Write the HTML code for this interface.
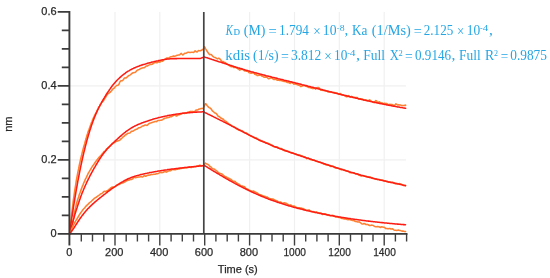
<!DOCTYPE html>
<html><head><meta charset="utf-8"><title>Binding kinetics</title>
<style>
html,body{margin:0;padding:0;background:#fff}
body{width:550px;height:278px;overflow:hidden;position:relative}
svg{display:block;position:absolute;left:0;top:0}
.t{font-family:"Liberation Sans",Arial,sans-serif;font-size:11px;fill:#2a2a2a;stroke:#2a2a2a;stroke-width:0.25px}
.k{font-family:"Liberation Serif","Times New Roman",serif;fill:#25a6e4;}
</style></head><body>
<svg width="550" height="278" viewBox="0 0 550 278">
<rect width="550" height="278" fill="#fff"/>
<g stroke="#f0f0f0" stroke-width="1.2" fill="none">
<path d="M115.0,12 V233"/><path d="M159.8,12 V233"/><path d="M249.6,12 V233"/><path d="M294.5,12 V233"/><path d="M339.3,12 V233"/><path d="M384.2,12 V233"/><path d="M70,159.9 H406"/><path d="M70,85.9 H406"/>
</g>
<g fill="none" stroke-width="1.55" stroke-linejoin="round" stroke-linecap="round">
<path stroke="#ff8030" d="M69.6,233.9 L70.3,226.2 L71.1,219.2 L71.8,212.5 L72.6,206.5 L73.3,200.7 L74.1,195.2 L74.8,190.2 L75.6,185.4 L76.3,180.7 L77.1,176.4 L77.8,172.6 L78.6,168.9 L79.3,165.1 L80.1,161.6 L80.8,158.4 L81.6,155.3 L82.3,152.2 L83.1,149.2 L83.8,146.5 L84.6,143.9 L85.3,141.2 L86.1,138.6 L86.8,136.0 L87.6,133.6 L88.3,131.3 L89.1,129.2 L89.8,127.2 L90.6,125.1 L91.3,123.1 L92.1,121.2 L92.8,119.4 L93.6,117.7 L94.3,116.1 L95.1,114.5 L95.8,113.1 L96.6,111.8 L97.3,110.3 L98.1,108.7 L98.8,107.2 L99.6,106.1 L100.3,105.0 L101.1,103.7 L101.8,102.4 L102.6,101.4 L103.3,101.0 L104.1,99.7 L104.8,98.4 L105.6,97.3 L106.3,95.9 L107.1,94.7 L107.8,93.9 L108.6,93.4 L109.3,92.9 L110.1,92.4 L110.8,91.5 L111.6,90.7 L112.3,89.7 L113.1,88.8 L113.8,88.4 L114.6,87.6 L115.3,86.6 L116.1,86.0 L116.8,85.4 L117.6,85.2 L118.3,85.0 L119.1,84.0 L119.8,82.1 L120.6,81.0 L121.3,80.8 L122.1,80.8 L122.8,80.4 L123.6,79.3 L124.3,78.1 L125.1,77.9 L125.8,78.0 L126.6,77.5 L127.3,76.9 L128.1,76.1 L128.8,75.5 L129.6,75.2 L130.3,74.8 L131.1,74.2 L131.8,73.5 L132.6,73.0 L133.3,72.7 L134.1,72.6 L134.8,72.5 L135.6,72.1 L136.3,71.2 L137.1,70.3 L137.8,69.9 L138.6,69.8 L139.3,69.4 L140.1,68.9 L140.8,68.5 L141.6,68.2 L142.3,68.0 L143.1,67.8 L143.8,67.8 L144.6,67.5 L145.3,66.8 L146.1,66.1 L146.8,66.0 L147.6,65.9 L148.3,65.2 L149.1,64.9 L149.8,64.6 L150.6,64.2 L151.3,64.4 L152.1,64.3 L152.8,63.7 L153.6,63.3 L154.3,62.9 L155.1,62.5 L155.8,62.4 L156.6,62.8 L157.3,62.7 L158.1,62.0 L158.8,61.7 L159.6,62.2 L160.3,61.9 L161.1,60.9 L161.8,61.1 L162.6,61.2 L163.3,60.2 L164.1,59.5 L164.8,59.4 L165.6,59.0 L166.3,58.2 L167.1,57.9 L167.8,58.2 L168.6,58.1 L169.3,57.5 L170.1,57.1 L170.8,56.8 L171.6,56.8 L172.3,56.6 L173.1,56.1 L173.8,56.1 L174.6,56.2 L175.3,56.1 L176.1,55.7 L176.8,55.3 L177.6,55.2 L178.3,55.1 L179.1,55.0 L179.8,54.7 L180.6,53.9 L181.3,53.4 L182.1,54.3 L182.8,55.0 L183.6,54.3 L184.3,53.6 L185.1,53.3 L185.8,53.2 L186.6,52.9 L187.3,52.5 L188.1,52.2 L188.8,52.2 L189.6,52.4 L190.3,52.4 L191.1,52.3 L191.8,52.3 L192.6,52.3 L193.3,52.4 L194.1,52.1 L194.8,51.0 L195.6,50.9 L196.3,51.8 L197.1,52.0 L197.8,51.2 L198.6,50.6 L199.3,50.7 L200.1,50.8 L200.8,50.5 L201.6,50.2 L202.3,49.7 L203.1,49.3 L203.3,49.7 L204.6,46.7 L205.3,48.4 L206.1,49.6 L206.8,50.8 L207.6,52.0 L208.3,53.1 L209.1,54.1 L209.8,54.7 L210.6,54.5 L211.3,54.5 L212.1,55.4 L212.8,56.3 L213.6,56.9 L214.3,57.2 L215.1,57.4 L215.8,57.8 L216.6,58.4 L217.3,58.9 L218.1,58.5 L218.8,58.2 L219.6,58.7 L220.3,59.4 L221.1,60.5 L221.8,61.6 L222.6,61.6 L223.3,61.6 L224.1,62.4 L224.8,62.5 L225.6,62.7 L226.3,63.8 L227.1,64.2 L227.8,64.5 L228.6,65.1 L229.3,65.6 L230.1,66.1 L230.8,66.5 L231.6,66.7 L232.3,66.4 L233.1,66.7 L233.8,67.6 L234.6,67.5 L235.3,67.3 L236.1,67.5 L236.8,68.0 L237.6,68.6 L238.3,69.0 L239.1,69.6 L239.8,70.1 L240.6,69.6 L241.3,69.1 L242.1,69.3 L242.8,69.6 L243.6,70.0 L244.3,70.8 L245.1,71.0 L245.8,71.1 L246.6,71.3 L247.3,71.1 L248.1,71.6 L248.8,72.5 L249.6,72.8 L250.3,73.0 L251.1,73.3 L251.8,73.0 L252.6,73.0 L253.3,73.0 L254.1,73.1 L254.8,74.3 L255.6,74.6 L256.4,74.6 L257.1,75.4 L257.9,75.6 L258.6,75.3 L259.4,75.2 L260.1,75.2 L260.9,75.3 L261.6,75.9 L262.4,76.2 L263.1,76.5 L263.9,77.1 L264.6,77.1 L265.4,77.1 L266.1,77.1 L266.9,77.2 L267.6,78.0 L268.4,78.6 L269.1,78.6 L269.9,78.4 L270.6,77.9 L271.4,77.7 L272.1,78.1 L272.9,78.9 L273.6,79.4 L274.4,79.5 L275.1,79.2 L275.9,79.2 L276.6,79.8 L277.4,80.2 L278.1,80.3 L278.9,80.3 L279.6,80.5 L280.4,80.4 L281.1,80.4 L281.9,80.7 L282.6,81.0 L283.4,81.3 L284.1,81.5 L284.9,81.4 L285.6,81.6 L286.4,81.9 L287.1,82.4 L287.9,82.5 L288.6,82.4 L289.4,83.1 L290.1,83.4 L290.9,82.7 L291.6,82.4 L292.4,82.8 L293.1,83.5 L293.9,84.2 L294.6,84.0 L295.4,83.9 L296.1,84.2 L296.9,84.5 L297.6,84.9 L298.4,85.3 L299.1,85.3 L299.9,85.6 L300.6,86.4 L301.4,86.4 L302.1,86.0 L302.9,85.7 L303.6,85.5 L304.4,85.6 L305.1,85.9 L305.9,86.2 L306.6,86.4 L307.4,86.6 L308.1,87.2 L308.9,87.5 L309.6,87.4 L310.4,87.7 L311.1,88.0 L311.9,88.3 L312.6,88.6 L313.4,88.5 L314.1,88.1 L314.9,88.5 L315.6,89.1 L316.4,88.5 L317.1,87.8 L317.9,87.6 L318.6,87.6 L319.4,88.2 L320.1,89.4 L320.9,90.2 L321.6,90.2 L322.4,90.2 L323.1,90.4 L323.9,90.5 L324.6,90.6 L325.4,90.9 L326.1,91.0 L326.9,91.1 L327.6,91.7 L328.4,92.1 L329.1,92.0 L329.9,92.1 L330.6,91.9 L331.4,92.0 L332.1,92.4 L332.9,92.5 L333.6,92.5 L334.4,92.5 L335.1,93.0 L335.9,93.2 L336.6,93.0 L337.4,93.4 L338.1,94.0 L338.9,94.4 L339.6,94.0 L340.4,93.5 L341.1,94.3 L341.9,95.0 L342.6,94.9 L343.4,95.1 L344.1,95.4 L344.9,95.8 L345.6,96.3 L346.4,96.7 L347.1,96.7 L347.9,95.9 L348.6,95.6 L349.4,96.6 L350.1,97.1 L350.9,96.7 L351.6,96.3 L352.4,96.8 L353.1,97.4 L353.9,97.5 L354.6,97.5 L355.4,97.5 L356.1,97.5 L356.9,97.5 L357.6,98.0 L358.4,98.8 L359.1,98.9 L359.9,98.7 L360.6,98.8 L361.4,98.9 L362.1,98.9 L362.9,99.4 L363.6,100.1 L364.4,100.3 L365.1,99.8 L365.9,99.9 L366.6,100.6 L367.4,100.8 L368.1,100.6 L368.9,100.2 L369.6,99.8 L370.4,100.3 L371.1,101.3 L371.9,101.6 L372.6,101.8 L373.4,102.5 L374.1,102.6 L374.9,101.6 L375.6,100.6 L376.4,100.7 L377.1,101.7 L377.9,102.6 L378.6,102.3 L379.4,101.7 L380.1,102.4 L380.9,103.2 L381.6,102.8 L382.4,103.0 L383.1,103.7 L383.9,103.5 L384.6,103.2 L385.4,103.4 L386.1,103.5 L386.9,103.6 L387.6,104.3 L388.4,104.6 L389.1,104.4 L389.9,104.3 L390.6,104.5 L391.4,104.4 L392.1,104.6 L392.9,104.9 L393.6,105.2 L394.4,105.4 L395.1,104.7 L395.9,103.8 L396.6,104.2 L397.4,105.0 L398.1,105.0 L398.9,104.8 L399.6,104.9 L400.4,105.1 L401.1,105.3 L401.9,105.4 L402.6,105.4 L403.4,105.6 L404.1,105.5 L404.9,105.3 L405.6,105.4 L405.6,105.0"/>
<path stroke="#ff1a12" d="M69.6,233.9 L70.3,228.4 L71.1,223.1 L71.8,217.9 L72.6,212.9 L73.3,208.0 L74.1,203.2 L74.8,198.6 L75.6,194.1 L76.3,189.7 L77.1,185.5 L77.8,181.4 L78.6,177.4 L79.3,173.5 L80.1,169.7 L80.8,166.1 L81.6,162.5 L82.3,159.1 L83.1,155.8 L83.8,152.6 L84.6,149.5 L85.3,146.5 L86.1,143.6 L86.8,140.8 L87.6,138.1 L88.3,135.5 L89.1,133.0 L89.8,130.5 L90.6,128.2 L91.3,126.0 L92.1,123.8 L92.8,121.7 L93.6,119.7 L94.3,117.8 L95.1,115.9 L95.8,114.1 L96.6,112.4 L97.3,110.7 L98.1,109.1 L98.8,107.6 L99.6,106.1 L100.3,104.7 L101.1,103.3 L101.8,102.0 L102.6,100.7 L103.3,99.4 L104.1,98.1 L104.8,96.9 L105.6,95.7 L106.3,94.5 L107.1,93.3 L107.8,92.2 L108.6,91.1 L109.3,90.0 L110.1,88.9 L110.8,87.8 L111.6,86.8 L112.3,85.8 L113.1,84.8 L113.8,83.9 L114.6,83.0 L115.3,82.2 L116.1,81.3 L116.8,80.5 L117.6,79.7 L118.3,79.0 L119.1,78.3 L119.8,77.6 L120.6,76.9 L121.3,76.2 L122.1,75.6 L122.8,75.0 L123.6,74.4 L124.3,73.8 L125.1,73.3 L125.8,72.7 L126.6,72.2 L127.3,71.7 L128.1,71.2 L128.8,70.8 L129.6,70.3 L130.3,69.9 L131.1,69.5 L131.8,69.1 L132.6,68.7 L133.3,68.4 L134.1,68.0 L134.8,67.7 L135.6,67.4 L136.3,67.0 L137.1,66.7 L137.8,66.4 L138.6,66.2 L139.3,65.9 L140.1,65.6 L140.8,65.4 L141.6,65.1 L142.3,64.9 L143.1,64.6 L143.8,64.4 L144.6,64.2 L145.3,64.0 L146.1,63.8 L146.8,63.6 L147.6,63.3 L148.3,63.1 L149.1,62.9 L149.8,62.7 L150.6,62.5 L151.3,62.3 L152.1,62.1 L152.8,62.0 L153.6,61.8 L154.3,61.6 L155.1,61.4 L155.8,61.2 L156.6,61.0 L157.3,60.9 L158.1,60.7 L158.8,60.5 L159.6,60.4 L160.3,60.2 L161.1,60.1 L161.8,59.9 L162.6,59.8 L163.3,59.7 L164.1,59.6 L164.8,59.4 L165.6,59.3 L166.3,59.2 L167.1,59.1 L167.8,59.0 L168.6,59.0 L169.3,58.9 L170.1,58.8 L170.8,58.8 L171.6,58.7 L172.3,58.7 L173.1,58.6 L173.8,58.6 L174.6,58.6 L175.3,58.6 L176.1,58.6 L176.8,58.6 L176.9,58.6 L177.8,58.4 L200.5,58.4 L202.8,57.5 L204.0,56.9 L204.8,57.1 L205.5,57.4 L206.2,57.6 L207.0,57.8 L207.8,58.1 L208.5,58.3 L209.2,58.5 L210.0,58.8 L210.8,59.0 L211.5,59.3 L212.2,59.5 L213.0,59.7 L213.8,60.0 L214.5,60.2 L215.2,60.5 L216.0,60.7 L216.8,60.9 L217.5,61.2 L218.2,61.4 L219.0,61.7 L219.8,61.9 L220.5,62.1 L221.2,62.4 L222.0,62.6 L222.8,62.9 L223.5,63.1 L224.2,63.4 L225.0,63.6 L225.8,63.8 L226.5,64.1 L227.2,64.3 L228.0,64.6 L228.8,64.8 L229.5,65.1 L230.2,65.3 L231.0,65.5 L231.8,65.8 L232.5,66.0 L233.2,66.2 L234.0,66.5 L234.8,66.7 L235.5,67.0 L236.2,67.2 L237.0,67.4 L237.8,67.7 L238.5,67.9 L239.2,68.1 L240.0,68.4 L240.8,68.6 L241.5,68.8 L242.2,69.0 L243.0,69.3 L243.8,69.5 L244.5,69.7 L245.2,70.0 L246.0,70.2 L246.8,70.4 L247.5,70.6 L248.2,70.8 L249.0,71.0 L249.8,71.3 L250.5,71.5 L251.2,71.7 L252.0,71.9 L252.8,72.1 L253.5,72.3 L254.2,72.5 L255.0,72.7 L255.8,72.9 L256.5,73.1 L257.2,73.3 L258.0,73.5 L258.8,73.7 L259.5,73.9 L260.2,74.1 L261.0,74.3 L261.8,74.5 L262.5,74.7 L263.2,74.9 L264.0,75.1 L264.8,75.3 L265.5,75.5 L266.2,75.7 L267.0,75.9 L267.8,76.1 L268.5,76.3 L269.2,76.5 L270.0,76.6 L270.8,76.8 L271.5,77.0 L272.2,77.2 L273.0,77.4 L273.8,77.6 L274.5,77.8 L275.2,78.0 L276.0,78.1 L276.8,78.3 L277.5,78.5 L278.2,78.7 L279.0,78.9 L279.8,79.1 L280.5,79.2 L281.2,79.4 L282.0,79.6 L282.8,79.8 L283.5,80.0 L284.2,80.2 L285.0,80.4 L285.8,80.5 L286.5,80.7 L287.2,80.9 L288.0,81.1 L288.8,81.3 L289.5,81.5 L290.2,81.7 L291.0,81.8 L291.8,82.0 L292.5,82.2 L293.2,82.4 L294.0,82.6 L294.8,82.8 L295.5,83.0 L296.2,83.2 L297.0,83.3 L297.8,83.5 L298.5,83.7 L299.2,83.9 L300.0,84.1 L300.8,84.3 L301.5,84.5 L302.2,84.7 L303.0,84.9 L303.8,85.1 L304.5,85.2 L305.2,85.4 L306.0,85.6 L306.8,85.8 L307.5,86.0 L308.2,86.2 L309.0,86.4 L309.8,86.6 L310.5,86.8 L311.2,87.0 L312.0,87.2 L312.8,87.3 L313.5,87.5 L314.2,87.7 L315.0,87.9 L315.8,88.1 L316.5,88.3 L317.2,88.5 L318.0,88.7 L318.8,88.9 L319.5,89.1 L320.2,89.3 L321.0,89.4 L321.8,89.6 L322.5,89.8 L323.2,90.0 L324.0,90.2 L324.8,90.4 L325.5,90.6 L326.2,90.8 L327.0,91.0 L327.8,91.2 L328.5,91.3 L329.2,91.5 L330.0,91.7 L330.8,91.9 L331.5,92.1 L332.2,92.3 L333.0,92.5 L333.8,92.7 L334.5,92.9 L335.2,93.0 L336.0,93.2 L336.8,93.4 L337.5,93.6 L338.2,93.8 L339.0,94.0 L339.8,94.2 L340.5,94.4 L341.2,94.5 L342.0,94.7 L342.8,94.9 L343.5,95.1 L344.2,95.3 L345.0,95.5 L345.8,95.6 L346.5,95.8 L347.2,96.0 L348.0,96.2 L348.8,96.4 L349.5,96.6 L350.2,96.7 L351.0,96.9 L351.8,97.1 L352.5,97.3 L353.2,97.5 L354.0,97.6 L354.8,97.8 L355.5,98.0 L356.2,98.2 L357.0,98.3 L357.8,98.5 L358.5,98.7 L359.2,98.9 L360.0,99.0 L360.8,99.2 L361.5,99.4 L362.2,99.6 L363.0,99.7 L363.8,99.9 L364.5,100.1 L365.2,100.2 L366.0,100.4 L366.8,100.6 L367.5,100.8 L368.2,100.9 L369.0,101.1 L369.8,101.3 L370.5,101.4 L371.2,101.6 L372.0,101.7 L372.8,101.9 L373.5,102.1 L374.2,102.2 L375.0,102.4 L375.8,102.6 L376.5,102.7 L377.2,102.9 L378.0,103.0 L378.8,103.2 L379.5,103.4 L380.2,103.5 L381.0,103.7 L381.8,103.8 L382.5,104.0 L383.2,104.1 L384.0,104.3 L384.8,104.4 L385.5,104.6 L386.2,104.7 L387.0,104.9 L387.8,105.0 L388.5,105.2 L389.2,105.3 L390.0,105.5 L390.8,105.6 L391.5,105.7 L392.2,105.9 L393.0,106.0 L393.8,106.2 L394.5,106.3 L395.2,106.4 L396.0,106.6 L396.8,106.7 L397.5,106.9 L398.2,107.0 L399.0,107.1 L399.8,107.3 L400.5,107.4 L401.2,107.5 L402.0,107.6 L402.8,107.8 L403.5,107.9 L404.2,108.0 L405.0,108.2 L405.6,108.3"/>
<path stroke="#ff8030" d="M69.6,233.9 L70.3,232.6 L71.1,230.2 L71.8,227.0 L72.6,223.4 L73.3,219.3 L74.1,215.1 L74.8,211.1 L75.6,207.6 L76.3,204.6 L77.1,201.7 L77.8,199.2 L78.6,196.9 L79.3,194.6 L80.1,192.5 L80.8,190.5 L81.6,188.4 L82.3,186.4 L83.1,184.6 L83.8,182.8 L84.6,181.1 L85.3,179.4 L86.1,177.8 L86.8,176.3 L87.6,174.7 L88.3,173.2 L89.1,171.9 L89.8,170.6 L90.6,169.4 L91.3,168.2 L92.1,166.8 L92.8,165.7 L93.6,164.7 L94.3,163.7 L95.1,162.5 L95.8,161.4 L96.6,160.4 L97.3,159.5 L98.1,158.6 L98.8,157.6 L99.6,156.7 L100.3,156.0 L101.1,155.2 L101.8,154.3 L102.6,153.4 L103.3,152.6 L104.1,151.6 L104.8,151.1 L105.6,150.5 L106.3,149.5 L107.1,148.6 L107.8,148.0 L108.6,147.5 L109.3,146.8 L110.1,145.9 L110.8,145.3 L111.6,144.5 L112.3,143.5 L113.1,143.1 L113.8,142.9 L114.6,142.6 L115.3,142.0 L116.1,141.4 L116.8,141.3 L117.6,141.1 L118.3,140.7 L119.1,140.6 L119.8,140.2 L120.6,139.3 L121.3,138.7 L122.1,138.0 L122.8,137.2 L123.6,136.7 L124.3,136.1 L125.1,135.1 L125.8,134.8 L126.6,134.5 L127.3,133.6 L128.1,133.3 L128.8,133.2 L129.6,133.1 L130.3,132.6 L131.1,131.7 L131.8,131.2 L132.6,131.3 L133.3,131.0 L134.1,130.3 L134.8,129.9 L135.6,129.6 L136.3,129.3 L137.1,129.0 L137.8,128.5 L138.6,127.8 L139.3,127.7 L140.1,127.5 L140.8,127.1 L141.6,126.6 L142.3,126.0 L143.1,126.0 L143.8,125.8 L144.6,125.2 L145.3,125.0 L146.1,125.1 L146.8,125.4 L147.6,125.1 L148.3,124.2 L149.1,123.5 L149.8,123.2 L150.6,123.0 L151.3,122.7 L152.1,122.4 L152.8,122.2 L153.6,122.0 L154.3,121.7 L155.1,121.4 L155.8,121.5 L156.6,121.6 L157.3,120.9 L158.1,120.4 L158.8,120.5 L159.6,120.4 L160.3,120.3 L161.1,120.3 L161.8,120.1 L162.6,119.6 L163.3,119.1 L164.1,118.8 L164.8,118.3 L165.6,118.1 L166.3,117.9 L167.1,117.6 L167.8,117.6 L168.6,117.5 L169.3,117.2 L170.1,116.8 L170.8,116.8 L171.6,116.7 L172.3,116.1 L173.1,115.6 L173.8,115.4 L174.6,114.9 L175.3,115.1 L176.1,115.9 L176.8,115.9 L177.6,115.3 L178.3,114.8 L179.1,114.6 L179.8,114.6 L180.6,114.3 L181.3,113.9 L182.1,113.4 L182.8,113.1 L183.6,113.3 L184.3,113.5 L185.1,113.3 L185.8,113.1 L186.6,113.0 L187.3,112.4 L188.1,112.1 L188.8,112.1 L189.6,111.8 L190.3,111.4 L191.1,111.5 L191.8,111.6 L192.6,111.4 L193.3,111.7 L194.1,112.0 L194.8,111.5 L195.6,110.6 L196.3,109.9 L197.1,109.9 L197.8,109.9 L198.6,109.3 L199.3,109.0 L200.1,108.9 L200.8,108.6 L201.6,108.4 L202.3,108.5 L203.1,108.4 L203.3,108.0 L205.5,103.7 L206.2,104.2 L207.0,105.4 L207.8,106.3 L208.5,107.2 L209.2,107.7 L210.0,107.9 L210.8,108.5 L211.5,109.5 L212.2,110.7 L213.0,111.4 L213.8,112.0 L214.5,112.7 L215.2,113.0 L216.0,113.4 L216.8,114.2 L217.5,115.2 L218.2,116.2 L219.0,116.6 L219.8,116.9 L220.5,117.7 L221.2,118.3 L222.0,118.6 L222.8,119.0 L223.5,119.5 L224.2,120.3 L225.0,120.9 L225.8,121.2 L226.5,121.9 L227.2,122.6 L228.0,123.2 L228.8,123.8 L229.5,124.3 L230.2,124.6 L231.0,125.3 L231.8,126.2 L232.5,126.3 L233.2,126.4 L234.0,126.8 L234.8,127.3 L235.5,128.1 L236.2,128.7 L237.0,129.2 L237.8,129.6 L238.5,129.9 L239.2,130.3 L240.0,130.5 L240.8,130.5 L241.5,130.8 L242.2,131.0 L243.0,131.5 L243.8,132.3 L244.5,132.5 L245.2,132.7 L246.0,132.9 L246.8,133.2 L247.5,133.9 L248.2,134.5 L249.0,135.0 L249.8,135.4 L250.5,135.7 L251.2,136.2 L252.0,136.6 L252.8,136.8 L253.5,137.2 L254.2,137.7 L255.0,138.1 L255.8,138.1 L256.5,138.1 L257.2,138.8 L258.0,139.5 L258.8,139.8 L259.5,140.4 L260.2,141.0 L261.0,141.1 L261.8,141.2 L262.5,141.2 L263.2,141.4 L264.0,141.8 L264.8,142.1 L265.5,142.5 L266.2,142.8 L267.0,143.1 L267.8,143.1 L268.5,143.4 L269.2,143.8 L270.0,144.2 L270.8,144.6 L271.5,145.0 L272.2,145.5 L273.0,146.3 L273.8,146.7 L274.5,146.8 L275.2,147.0 L276.0,147.2 L276.8,146.9 L277.5,147.0 L278.2,147.7 L279.0,148.2 L279.8,148.5 L280.5,148.6 L281.2,148.5 L282.0,149.0 L282.8,149.9 L283.5,150.2 L284.2,150.4 L285.0,150.7 L285.8,150.6 L286.5,150.7 L287.2,151.1 L288.0,151.2 L288.8,151.5 L289.5,151.9 L290.2,152.3 L291.0,152.8 L291.8,153.0 L292.5,152.8 L293.2,153.1 L294.0,153.6 L294.8,153.8 L295.5,154.0 L296.2,154.5 L297.0,154.8 L297.8,155.0 L298.5,155.1 L299.2,154.9 L300.0,155.1 L300.8,155.7 L301.5,155.9 L302.2,156.0 L303.0,156.4 L303.8,156.8 L304.5,157.0 L305.2,157.1 L306.0,157.8 L306.8,158.7 L307.5,158.4 L308.2,158.0 L309.0,158.7 L309.8,159.3 L310.5,159.6 L311.2,159.6 L312.0,159.7 L312.8,160.3 L313.5,160.3 L314.2,160.2 L315.0,160.6 L315.8,161.1 L316.5,161.4 L317.2,161.6 L318.0,161.8 L318.8,162.1 L319.5,162.3 L320.2,162.4 L321.0,162.6 L321.8,163.0 L322.5,163.4 L323.2,163.8 L324.0,164.2 L324.8,164.3 L325.5,164.6 L326.2,165.0 L327.0,165.0 L327.8,165.0 L328.5,165.1 L329.2,165.5 L330.0,166.1 L330.8,166.4 L331.5,166.4 L332.2,166.1 L333.0,166.2 L333.8,166.6 L334.5,167.1 L335.2,168.0 L336.0,168.1 L336.8,167.7 L337.5,167.8 L338.2,168.2 L339.0,168.6 L339.8,168.9 L340.5,169.4 L341.2,169.7 L342.0,169.5 L342.8,169.5 L343.5,169.9 L344.2,170.3 L345.0,170.6 L345.8,170.8 L346.5,171.1 L347.2,171.2 L348.0,171.2 L348.8,171.5 L349.5,172.2 L350.2,172.8 L351.0,172.7 L351.8,172.6 L352.5,172.8 L353.2,172.8 L354.0,172.8 L354.8,173.4 L355.5,173.9 L356.2,173.7 L357.0,173.7 L357.8,174.4 L358.5,175.0 L359.2,175.2 L360.0,175.4 L360.8,175.9 L361.5,176.0 L362.2,175.8 L363.0,175.7 L363.8,175.8 L364.5,176.1 L365.2,176.3 L366.0,176.5 L366.8,176.9 L367.5,177.0 L368.2,177.0 L369.0,177.1 L369.8,176.9 L370.5,177.1 L371.2,177.6 L372.0,178.1 L372.8,178.4 L373.5,178.6 L374.2,178.7 L375.0,178.7 L375.8,179.0 L376.5,179.3 L377.2,179.5 L378.0,179.5 L378.8,179.5 L379.5,179.5 L380.2,180.0 L381.0,180.3 L381.8,180.1 L382.5,180.0 L383.2,180.6 L384.0,180.9 L384.8,180.9 L385.5,181.0 L386.2,181.4 L387.0,181.6 L387.8,181.9 L388.5,182.2 L389.2,182.2 L390.0,182.3 L390.8,182.5 L391.5,182.5 L392.2,182.3 L393.0,182.3 L393.8,182.8 L394.5,183.5 L395.2,183.6 L396.0,183.6 L396.8,183.7 L397.5,183.6 L398.2,183.8 L399.0,183.7 L399.8,183.6 L400.5,183.9 L401.2,184.2 L402.0,184.5 L402.8,185.2 L403.5,185.6 L404.2,185.4 L405.0,185.5 L405.5,185.8"/>
<path stroke="#ff1a12" d="M69.6,233.9 L70.3,231.0 L71.1,228.2 L71.8,225.4 L72.6,222.7 L73.3,220.0 L74.1,217.4 L74.8,214.8 L75.6,212.3 L76.3,209.9 L77.1,207.5 L77.8,205.2 L78.6,202.9 L79.3,200.7 L80.1,198.6 L80.8,196.5 L81.6,194.5 L82.3,192.6 L83.1,190.8 L83.8,189.0 L84.6,187.2 L85.3,185.5 L86.1,183.8 L86.8,182.2 L87.6,180.7 L88.3,179.1 L89.1,177.6 L89.8,176.2 L90.6,174.7 L91.3,173.3 L92.1,171.9 L92.8,170.6 L93.6,169.2 L94.3,167.9 L95.1,166.6 L95.8,165.3 L96.6,164.0 L97.3,162.8 L98.1,161.5 L98.8,160.3 L99.6,159.2 L100.3,158.0 L101.1,156.9 L101.8,155.8 L102.6,154.8 L103.3,153.7 L104.1,152.7 L104.8,151.8 L105.6,150.9 L106.3,150.0 L107.1,149.1 L107.8,148.3 L108.6,147.5 L109.3,146.7 L110.1,146.0 L110.8,145.2 L111.6,144.5 L112.3,143.7 L113.1,143.0 L113.8,142.3 L114.6,141.6 L115.3,140.9 L116.1,140.2 L116.8,139.5 L117.6,138.8 L118.3,138.1 L119.1,137.4 L119.8,136.7 L120.6,136.1 L121.3,135.4 L122.1,134.8 L122.8,134.1 L123.6,133.5 L124.3,132.9 L125.1,132.3 L125.8,131.7 L126.6,131.2 L127.3,130.6 L128.1,130.1 L128.8,129.6 L129.6,129.1 L130.3,128.6 L131.1,128.1 L131.8,127.7 L132.6,127.3 L133.3,126.8 L134.1,126.4 L134.8,126.0 L135.6,125.7 L136.3,125.3 L137.1,125.0 L137.8,124.6 L138.6,124.3 L139.3,124.0 L140.1,123.7 L140.8,123.4 L141.6,123.1 L142.3,122.8 L143.1,122.5 L143.8,122.2 L144.6,122.0 L145.3,121.7 L146.1,121.4 L146.8,121.2 L147.6,120.9 L148.3,120.7 L149.1,120.4 L149.8,120.2 L150.6,120.0 L151.3,119.7 L152.1,119.5 L152.8,119.3 L153.6,119.1 L154.3,118.8 L155.1,118.6 L155.8,118.4 L156.6,118.2 L157.3,118.0 L158.1,117.8 L158.8,117.6 L159.6,117.4 L160.3,117.3 L161.1,117.1 L161.8,116.9 L162.6,116.7 L163.3,116.6 L164.1,116.4 L164.8,116.2 L165.6,116.1 L166.3,115.9 L167.1,115.8 L167.8,115.6 L168.6,115.5 L169.3,115.3 L170.1,115.2 L170.8,115.1 L171.6,114.9 L172.3,114.8 L173.1,114.7 L173.8,114.5 L174.6,114.4 L175.3,114.3 L176.1,114.2 L176.8,114.1 L177.6,114.0 L178.3,113.9 L179.1,113.8 L179.8,113.7 L180.6,113.6 L181.3,113.5 L182.1,113.4 L182.8,113.3 L183.6,113.2 L184.3,113.1 L185.1,113.0 L185.8,113.0 L186.6,112.9 L187.3,112.8 L188.1,112.8 L188.8,112.7 L189.6,112.6 L190.3,112.6 L191.1,112.5 L191.8,112.4 L192.6,112.4 L193.3,112.3 L194.1,112.3 L194.8,112.2 L195.6,112.2 L196.3,112.1 L197.1,112.1 L197.8,112.0 L198.6,112.0 L199.3,112.0 L200.1,111.9 L200.8,111.9 L201.6,111.9 L202.3,111.8 L203.1,111.8 L203.8,111.8 L204.0,111.8 L204.5,112.3 L205.2,112.7 L206.0,113.0 L206.8,113.4 L207.5,113.8 L208.2,114.2 L209.0,114.5 L209.8,114.9 L210.5,115.3 L211.2,115.6 L212.0,116.0 L212.8,116.4 L213.5,116.7 L214.2,117.1 L215.0,117.5 L215.8,117.9 L216.5,118.2 L217.2,118.6 L218.0,119.0 L218.8,119.4 L219.5,119.7 L220.2,120.1 L221.0,120.5 L221.8,120.8 L222.5,121.2 L223.2,121.6 L224.0,122.0 L224.8,122.4 L225.5,122.7 L226.2,123.1 L227.0,123.5 L227.8,123.9 L228.5,124.3 L229.2,124.6 L230.0,125.0 L230.8,125.4 L231.5,125.8 L232.2,126.2 L233.0,126.6 L233.8,127.0 L234.5,127.4 L235.2,127.7 L236.0,128.1 L236.8,128.5 L237.5,128.9 L238.2,129.3 L239.0,129.7 L239.8,130.1 L240.5,130.5 L241.2,130.9 L242.0,131.3 L242.8,131.7 L243.5,132.1 L244.2,132.5 L245.0,132.9 L245.8,133.2 L246.5,133.6 L247.2,134.0 L248.0,134.4 L248.8,134.8 L249.5,135.2 L250.2,135.6 L251.0,135.9 L251.8,136.3 L252.5,136.7 L253.2,137.1 L254.0,137.4 L254.8,137.8 L255.5,138.2 L256.2,138.5 L257.0,138.9 L257.8,139.2 L258.5,139.6 L259.2,140.0 L260.0,140.3 L260.8,140.6 L261.5,141.0 L262.2,141.3 L263.0,141.7 L263.8,142.0 L264.5,142.3 L265.2,142.7 L266.0,143.0 L266.8,143.3 L267.5,143.6 L268.2,143.9 L269.0,144.3 L269.8,144.6 L270.5,144.9 L271.2,145.2 L272.0,145.5 L272.8,145.8 L273.5,146.1 L274.2,146.4 L275.0,146.7 L275.8,147.0 L276.5,147.3 L277.2,147.6 L278.0,147.9 L278.8,148.2 L279.5,148.4 L280.2,148.7 L281.0,149.0 L281.8,149.3 L282.5,149.6 L283.2,149.8 L284.0,150.1 L284.8,150.4 L285.5,150.7 L286.2,150.9 L287.0,151.2 L287.8,151.5 L288.5,151.7 L289.2,152.0 L290.0,152.3 L290.8,152.5 L291.5,152.8 L292.2,153.1 L293.0,153.3 L293.8,153.6 L294.5,153.8 L295.2,154.1 L296.0,154.3 L296.8,154.6 L297.5,154.8 L298.2,155.1 L299.0,155.4 L299.8,155.6 L300.5,155.9 L301.2,156.1 L302.0,156.4 L302.8,156.6 L303.5,156.9 L304.2,157.1 L305.0,157.4 L305.8,157.6 L306.5,157.9 L307.2,158.1 L308.0,158.3 L308.8,158.6 L309.5,158.8 L310.2,159.1 L311.0,159.3 L311.8,159.6 L312.5,159.8 L313.2,160.1 L314.0,160.3 L314.8,160.6 L315.5,160.8 L316.2,161.1 L317.0,161.3 L317.8,161.6 L318.5,161.8 L319.2,162.1 L320.0,162.3 L320.8,162.6 L321.5,162.8 L322.2,163.1 L323.0,163.3 L323.8,163.6 L324.5,163.8 L325.2,164.0 L326.0,164.3 L326.8,164.5 L327.5,164.8 L328.2,165.0 L329.0,165.3 L329.8,165.5 L330.5,165.8 L331.2,166.0 L332.0,166.3 L332.8,166.5 L333.5,166.7 L334.2,167.0 L335.0,167.2 L335.8,167.5 L336.5,167.7 L337.2,168.0 L338.0,168.2 L338.8,168.4 L339.5,168.7 L340.2,168.9 L341.0,169.1 L341.8,169.4 L342.5,169.6 L343.2,169.9 L344.0,170.1 L344.8,170.3 L345.5,170.6 L346.2,170.8 L347.0,171.0 L347.8,171.2 L348.5,171.5 L349.2,171.7 L350.0,171.9 L350.8,172.2 L351.5,172.4 L352.2,172.6 L353.0,172.8 L353.8,173.0 L354.5,173.3 L355.2,173.5 L356.0,173.7 L356.8,173.9 L357.5,174.1 L358.2,174.3 L359.0,174.6 L359.8,174.8 L360.5,175.0 L361.2,175.2 L362.0,175.4 L362.8,175.6 L363.5,175.8 L364.2,176.0 L365.0,176.2 L365.8,176.4 L366.5,176.6 L367.2,176.8 L368.0,177.0 L368.8,177.2 L369.5,177.4 L370.2,177.6 L371.0,177.7 L371.8,177.9 L372.5,178.1 L373.2,178.3 L374.0,178.5 L374.8,178.7 L375.5,178.9 L376.2,179.0 L377.0,179.2 L377.8,179.4 L378.5,179.6 L379.2,179.7 L380.0,179.9 L380.8,180.1 L381.5,180.3 L382.2,180.4 L383.0,180.6 L383.8,180.8 L384.5,181.0 L385.2,181.1 L386.0,181.3 L386.8,181.5 L387.5,181.6 L388.2,181.8 L389.0,182.0 L389.8,182.1 L390.5,182.3 L391.2,182.5 L392.0,182.6 L392.8,182.8 L393.5,183.0 L394.2,183.1 L395.0,183.3 L395.8,183.5 L396.5,183.6 L397.2,183.8 L398.0,183.9 L398.8,184.1 L399.5,184.3 L400.2,184.4 L401.0,184.6 L401.8,184.8 L402.5,184.9 L403.2,185.1 L404.0,185.3 L404.8,185.4 L405.5,185.6"/>
<path stroke="#ff8030" d="M69.6,233.9 L70.3,232.0 L71.1,230.3 L71.8,228.7 L72.6,227.0 L73.3,225.5 L74.1,224.0 L74.8,222.5 L75.6,221.1 L76.3,219.9 L77.1,218.7 L77.8,217.5 L78.6,216.1 L79.3,214.9 L80.1,213.7 L80.8,212.6 L81.6,211.7 L82.3,210.6 L83.1,209.6 L83.8,208.8 L84.6,208.0 L85.3,207.1 L86.1,206.1 L86.8,205.4 L87.6,204.7 L88.3,203.9 L89.1,203.1 L89.8,202.5 L90.6,201.9 L91.3,201.3 L92.1,200.5 L92.8,199.8 L93.6,199.1 L94.3,198.4 L95.1,197.9 L95.8,197.5 L96.6,197.0 L97.3,196.4 L98.1,195.8 L98.8,195.3 L99.6,194.8 L100.3,194.2 L101.1,193.7 L101.8,193.3 L102.6,192.8 L103.3,192.1 L104.1,191.4 L104.8,191.3 L105.6,191.5 L106.3,191.2 L107.1,190.8 L107.8,190.5 L108.6,189.8 L109.3,189.1 L110.1,188.5 L110.8,187.8 L111.6,187.3 L112.3,187.1 L113.1,187.3 L113.8,187.2 L114.6,186.7 L115.3,186.3 L116.1,185.7 L116.8,185.2 L117.6,184.8 L118.3,184.3 L119.1,184.4 L119.8,184.2 L120.6,183.6 L121.3,183.2 L122.1,183.1 L122.8,182.9 L123.6,182.6 L124.3,182.1 L125.1,181.8 L125.8,181.2 L126.6,180.8 L127.3,180.6 L128.1,180.2 L128.8,180.0 L129.6,179.9 L130.3,179.4 L131.1,179.4 L131.8,179.4 L132.6,178.9 L133.3,178.0 L134.1,177.4 L134.8,177.5 L135.6,177.7 L136.3,177.5 L137.1,177.3 L137.8,177.3 L138.6,177.1 L139.3,177.0 L140.1,176.9 L140.8,176.6 L141.6,176.7 L142.3,177.0 L143.1,176.6 L143.8,175.9 L144.6,175.8 L145.3,176.1 L146.1,176.1 L146.8,175.6 L147.6,175.2 L148.3,175.1 L149.1,175.2 L149.8,175.1 L150.6,174.7 L151.3,174.5 L152.1,174.5 L152.8,174.5 L153.6,174.3 L154.3,174.3 L155.1,174.3 L155.8,174.0 L156.6,173.7 L157.3,173.7 L158.1,173.4 L158.8,173.2 L159.6,172.7 L160.3,172.4 L161.1,172.6 L161.8,172.7 L162.6,172.5 L163.3,172.2 L164.1,171.8 L164.8,171.6 L165.6,171.8 L166.3,172.1 L167.1,171.7 L167.8,171.2 L168.6,171.0 L169.3,170.7 L170.1,170.6 L170.8,170.6 L171.6,170.1 L172.3,169.5 L173.1,169.5 L173.8,169.7 L174.6,169.8 L175.3,169.7 L176.1,169.4 L176.8,169.3 L177.6,169.2 L178.3,169.0 L179.1,169.0 L179.8,168.7 L180.6,168.5 L181.3,168.4 L182.1,168.1 L182.8,168.0 L183.6,168.1 L184.3,168.0 L185.1,167.7 L185.8,167.6 L186.6,167.7 L187.3,167.7 L188.1,167.4 L188.8,167.3 L189.6,167.1 L190.3,167.2 L191.1,167.6 L191.8,167.2 L192.6,166.7 L193.3,166.9 L194.1,166.7 L194.8,166.7 L195.6,166.7 L196.3,166.3 L197.1,166.1 L197.8,166.0 L198.6,165.8 L199.3,165.3 L200.1,165.2 L200.8,165.5 L201.6,165.7 L202.3,165.7 L203.1,165.6 L203.8,165.1 L204.2,164.6 L205.5,163.1 L206.2,163.8 L207.0,164.1 L207.8,164.3 L208.5,164.8 L209.2,165.6 L210.0,166.4 L210.8,166.9 L211.5,167.5 L212.2,168.4 L213.0,168.9 L213.8,169.0 L214.5,169.2 L215.2,169.8 L216.0,170.4 L216.8,171.0 L217.5,171.6 L218.2,172.3 L219.0,172.9 L219.8,173.2 L220.5,173.4 L221.2,173.8 L222.0,174.1 L222.8,174.7 L223.5,175.5 L224.2,176.0 L225.0,176.4 L225.8,176.7 L226.5,177.1 L227.2,177.7 L228.0,178.0 L228.8,178.3 L229.5,178.6 L230.2,179.0 L231.0,179.4 L231.8,180.0 L232.5,180.7 L233.2,181.2 L234.0,181.4 L234.8,181.2 L235.5,181.9 L236.2,182.7 L237.0,183.1 L237.8,183.7 L238.5,184.1 L239.2,184.3 L240.0,185.0 L240.8,185.8 L241.5,185.9 L242.2,185.9 L243.0,186.2 L243.8,186.4 L244.5,186.7 L245.2,187.5 L246.0,188.5 L246.8,188.8 L247.5,189.0 L248.2,189.5 L249.0,190.0 L249.8,190.3 L250.5,190.7 L251.2,190.9 L252.0,191.1 L252.8,191.2 L253.5,191.0 L254.2,191.4 L255.0,192.0 L255.8,192.3 L256.5,192.6 L257.2,192.9 L258.0,193.6 L258.8,194.5 L259.5,194.6 L260.2,194.7 L261.0,195.0 L261.8,195.3 L262.5,195.6 L263.2,196.1 L264.0,196.3 L264.8,196.2 L265.5,196.6 L266.2,196.9 L267.0,197.0 L267.8,197.5 L268.5,197.9 L269.2,198.4 L270.0,198.7 L270.8,198.8 L271.5,199.1 L272.2,199.1 L273.0,199.1 L273.8,199.4 L274.5,199.8 L275.2,200.2 L276.0,200.6 L276.8,200.8 L277.5,201.1 L278.2,201.9 L279.0,202.3 L279.8,202.0 L280.5,202.0 L281.2,202.5 L282.0,203.1 L282.8,203.3 L283.5,202.9 L284.2,202.8 L285.0,203.0 L285.8,203.2 L286.5,203.5 L287.2,204.0 L288.0,204.4 L288.8,205.1 L289.5,205.3 L290.2,204.9 L291.0,205.0 L291.8,205.6 L292.5,206.1 L293.2,205.9 L294.0,205.9 L294.8,206.5 L295.5,206.9 L296.2,207.2 L297.0,207.7 L297.8,207.9 L298.5,207.8 L299.2,207.8 L300.0,208.1 L300.8,208.1 L301.5,208.1 L302.2,208.4 L303.0,208.6 L303.8,208.9 L304.5,209.4 L305.2,210.0 L306.0,210.3 L306.8,210.5 L307.5,210.5 L308.2,210.0 L309.0,209.9 L309.8,210.6 L310.5,211.3 L311.2,211.5 L312.0,211.8 L312.8,211.8 L313.5,211.6 L314.2,212.1 L315.0,212.6 L315.8,212.2 L316.5,211.9 L317.2,212.3 L318.0,212.8 L318.8,212.9 L319.5,213.0 L320.2,213.0 L321.0,213.1 L321.8,213.8 L322.5,214.5 L323.2,214.3 L324.0,214.0 L324.8,213.8 L325.5,213.8 L326.2,214.3 L327.0,214.7 L327.8,214.7 L328.5,215.1 L329.2,215.5 L330.0,215.7 L330.8,215.8 L331.5,215.6 L332.2,215.3 L333.0,215.5 L333.8,216.0 L334.5,216.4 L335.2,216.8 L336.0,217.0 L336.8,216.8 L337.5,216.9 L338.2,217.3 L339.0,217.5 L339.8,217.6 L340.5,217.9 L341.2,218.2 L342.0,218.4 L342.8,218.6 L343.5,218.8 L344.2,218.9 L345.0,218.8 L345.8,219.0 L346.5,219.3 L347.2,219.6 L348.0,219.8 L348.8,219.5 L349.5,219.4 L350.2,219.8 L351.0,220.1 L351.8,220.2 L352.5,220.4 L353.2,220.5 L354.0,220.7 L354.8,221.2 L355.5,221.5 L356.2,221.6 L357.0,221.8 L357.8,222.0 L358.5,221.9 L359.2,221.8 L360.0,222.3 L360.8,223.0 L361.5,223.6 L362.2,224.0 L363.0,223.9 L363.8,223.6 L364.5,223.6 L365.2,224.0 L366.0,224.5 L366.8,224.6 L367.5,224.4 L368.2,224.7 L369.0,225.3 L369.8,225.6 L370.5,225.4 L371.2,225.1 L372.0,225.2 L372.8,225.3 L373.5,225.7 L374.2,226.2 L375.0,226.5 L375.8,226.7 L376.5,226.7 L377.2,226.6 L378.0,226.6 L378.8,226.7 L379.5,227.0 L380.2,227.4 L381.0,227.1 L381.8,226.8 L382.5,227.1 L383.2,227.2 L384.0,227.2 L384.8,227.6 L385.5,228.4 L386.2,228.6 L387.0,228.5 L387.8,228.8 L388.5,228.8 L389.2,228.5 L390.0,228.6 L390.8,228.9 L391.5,228.9 L392.2,228.8 L393.0,229.2 L393.8,229.8 L394.5,230.2 L395.2,230.3 L396.0,230.2 L396.8,230.4 L397.5,230.3 L398.2,230.0 L399.0,230.3 L399.8,230.5 L400.5,230.6 L401.2,230.9 L402.0,231.1 L402.8,231.1 L403.5,231.1 L404.2,231.4 L405.0,231.4 L405.5,231.5"/>
<path stroke="#ff1a12" d="M69.6,233.9 L70.3,233.0 L71.1,232.0 L71.8,231.0 L72.6,229.9 L73.3,228.8 L74.1,227.7 L74.8,226.5 L75.6,225.4 L76.3,224.2 L77.1,223.0 L77.8,221.9 L78.6,220.7 L79.3,219.6 L80.1,218.5 L80.8,217.4 L81.6,216.4 L82.3,215.4 L83.1,214.4 L83.8,213.5 L84.6,212.6 L85.3,211.7 L86.1,210.8 L86.8,210.0 L87.6,209.1 L88.3,208.3 L89.1,207.6 L89.8,206.8 L90.6,206.1 L91.3,205.3 L92.1,204.6 L92.8,203.9 L93.6,203.3 L94.3,202.6 L95.1,201.9 L95.8,201.3 L96.6,200.7 L97.3,200.0 L98.1,199.4 L98.8,198.8 L99.6,198.2 L100.3,197.6 L101.1,197.0 L101.8,196.4 L102.6,195.8 L103.3,195.2 L104.1,194.6 L104.8,194.1 L105.6,193.5 L106.3,192.9 L107.1,192.3 L107.8,191.7 L108.6,191.2 L109.3,190.6 L110.1,190.0 L110.8,189.5 L111.6,188.9 L112.3,188.4 L113.1,187.9 L113.8,187.3 L114.6,186.8 L115.3,186.3 L116.1,185.8 L116.8,185.3 L117.6,184.8 L118.3,184.3 L119.1,183.8 L119.8,183.3 L120.6,182.9 L121.3,182.4 L122.1,182.0 L122.8,181.6 L123.6,181.1 L124.3,180.7 L125.1,180.3 L125.8,179.9 L126.6,179.6 L127.3,179.2 L128.1,178.8 L128.8,178.5 L129.6,178.2 L130.3,177.9 L131.1,177.6 L131.8,177.3 L132.6,177.0 L133.3,176.7 L134.1,176.5 L134.8,176.2 L135.6,176.0 L136.3,175.8 L137.1,175.6 L137.8,175.4 L138.6,175.2 L139.3,175.0 L140.1,174.8 L140.8,174.6 L141.6,174.4 L142.3,174.2 L143.1,174.1 L143.8,173.9 L144.6,173.7 L145.3,173.6 L146.1,173.4 L146.8,173.3 L147.6,173.1 L148.3,172.9 L149.1,172.8 L149.8,172.6 L150.6,172.5 L151.3,172.4 L152.1,172.2 L152.8,172.1 L153.6,171.9 L154.3,171.8 L155.1,171.7 L155.8,171.5 L156.6,171.4 L157.3,171.3 L158.1,171.1 L158.8,171.0 L159.6,170.9 L160.3,170.8 L161.1,170.7 L161.8,170.5 L162.6,170.4 L163.3,170.3 L164.1,170.2 L164.8,170.1 L165.6,170.0 L166.3,169.9 L167.1,169.8 L167.8,169.6 L168.6,169.5 L169.3,169.4 L170.1,169.3 L170.8,169.2 L171.6,169.1 L172.3,169.0 L173.1,168.9 L173.8,168.9 L174.6,168.8 L175.3,168.7 L176.1,168.6 L176.8,168.5 L177.6,168.4 L178.3,168.3 L179.1,168.2 L179.8,168.1 L180.6,168.0 L181.3,168.0 L182.1,167.9 L182.8,167.8 L183.6,167.7 L184.3,167.6 L185.1,167.5 L185.8,167.5 L186.6,167.4 L187.3,167.3 L188.1,167.2 L188.8,167.1 L189.6,167.1 L190.3,167.0 L191.1,166.9 L191.8,166.8 L192.6,166.8 L193.3,166.7 L194.1,166.6 L194.8,166.5 L195.6,166.5 L196.3,166.4 L197.1,166.3 L197.8,166.2 L198.6,166.2 L199.3,166.1 L200.1,166.0 L200.8,166.0 L201.6,165.9 L202.3,165.8 L203.1,165.7 L203.8,165.7 L204.0,165.6 L204.5,165.5 L205.2,166.0 L206.0,166.4 L206.8,166.9 L207.5,167.4 L208.2,167.8 L209.0,168.3 L209.8,168.7 L210.5,169.2 L211.2,169.7 L212.0,170.1 L212.8,170.6 L213.5,171.0 L214.2,171.5 L215.0,171.9 L215.8,172.4 L216.5,172.8 L217.2,173.3 L218.0,173.7 L218.8,174.2 L219.5,174.6 L220.2,175.1 L221.0,175.5 L221.8,175.9 L222.5,176.4 L223.2,176.8 L224.0,177.3 L224.8,177.7 L225.5,178.1 L226.2,178.6 L227.0,179.0 L227.8,179.4 L228.5,179.8 L229.2,180.3 L230.0,180.7 L230.8,181.1 L231.5,181.5 L232.2,181.9 L233.0,182.4 L233.8,182.8 L234.5,183.2 L235.2,183.6 L236.0,184.0 L236.8,184.4 L237.5,184.8 L238.2,185.2 L239.0,185.6 L239.8,186.0 L240.5,186.4 L241.2,186.7 L242.0,187.1 L242.8,187.5 L243.5,187.9 L244.2,188.3 L245.0,188.6 L245.8,189.0 L246.5,189.4 L247.2,189.8 L248.0,190.1 L248.8,190.5 L249.5,190.8 L250.2,191.2 L251.0,191.6 L251.8,191.9 L252.5,192.3 L253.2,192.6 L254.0,192.9 L254.8,193.3 L255.5,193.6 L256.2,193.9 L257.0,194.3 L257.8,194.6 L258.5,194.9 L259.2,195.3 L260.0,195.6 L260.8,195.9 L261.5,196.2 L262.2,196.5 L263.0,196.8 L263.8,197.1 L264.5,197.4 L265.2,197.7 L266.0,198.0 L266.8,198.3 L267.5,198.6 L268.2,198.9 L269.0,199.2 L269.8,199.4 L270.5,199.7 L271.2,200.0 L272.0,200.3 L272.8,200.5 L273.5,200.8 L274.2,201.1 L275.0,201.3 L275.8,201.6 L276.5,201.9 L277.2,202.1 L278.0,202.4 L278.8,202.6 L279.5,202.9 L280.2,203.1 L281.0,203.3 L281.8,203.6 L282.5,203.8 L283.2,204.1 L284.0,204.3 L284.8,204.5 L285.5,204.8 L286.2,205.0 L287.0,205.2 L287.8,205.4 L288.5,205.7 L289.2,205.9 L290.0,206.1 L290.8,206.3 L291.5,206.5 L292.2,206.7 L293.0,206.9 L293.8,207.2 L294.5,207.4 L295.2,207.6 L296.0,207.8 L296.8,208.0 L297.5,208.2 L298.2,208.4 L299.0,208.5 L299.8,208.7 L300.5,208.9 L301.2,209.1 L302.0,209.3 L302.8,209.5 L303.5,209.7 L304.2,209.9 L305.0,210.0 L305.8,210.2 L306.5,210.4 L307.2,210.6 L308.0,210.8 L308.8,210.9 L309.5,211.1 L310.2,211.3 L311.0,211.4 L311.8,211.6 L312.5,211.8 L313.2,211.9 L314.0,212.1 L314.8,212.3 L315.5,212.4 L316.2,212.6 L317.0,212.8 L317.8,212.9 L318.5,213.1 L319.2,213.2 L320.0,213.4 L320.8,213.5 L321.5,213.7 L322.2,213.8 L323.0,214.0 L323.8,214.1 L324.5,214.3 L325.2,214.4 L326.0,214.6 L326.8,214.7 L327.5,214.9 L328.2,215.0 L329.0,215.1 L329.8,215.3 L330.5,215.4 L331.2,215.6 L332.0,215.7 L332.8,215.8 L333.5,216.0 L334.2,216.1 L335.0,216.2 L335.8,216.4 L336.5,216.5 L337.2,216.6 L338.0,216.7 L338.8,216.9 L339.5,217.0 L340.2,217.1 L341.0,217.2 L341.8,217.4 L342.5,217.5 L343.2,217.6 L344.0,217.7 L344.8,217.8 L345.5,218.0 L346.2,218.1 L347.0,218.2 L347.8,218.3 L348.5,218.4 L349.2,218.5 L350.0,218.6 L350.8,218.8 L351.5,218.9 L352.2,219.0 L353.0,219.1 L353.8,219.2 L354.5,219.3 L355.2,219.4 L356.0,219.5 L356.8,219.6 L357.5,219.7 L358.2,219.8 L359.0,219.9 L359.8,220.0 L360.5,220.1 L361.2,220.2 L362.0,220.3 L362.8,220.4 L363.5,220.5 L364.2,220.6 L365.0,220.7 L365.8,220.8 L366.5,220.9 L367.2,221.0 L368.0,221.1 L368.8,221.1 L369.5,221.2 L370.2,221.3 L371.0,221.4 L371.8,221.5 L372.5,221.6 L373.2,221.7 L374.0,221.7 L374.8,221.8 L375.5,221.9 L376.2,222.0 L377.0,222.1 L377.8,222.2 L378.5,222.2 L379.2,222.3 L380.0,222.4 L380.8,222.5 L381.5,222.6 L382.2,222.6 L383.0,222.7 L383.8,222.8 L384.5,222.9 L385.2,222.9 L386.0,223.0 L386.8,223.1 L387.5,223.2 L388.2,223.2 L389.0,223.3 L389.8,223.4 L390.5,223.4 L391.2,223.5 L392.0,223.6 L392.8,223.7 L393.5,223.7 L394.2,223.8 L395.0,223.9 L395.8,223.9 L396.5,224.0 L397.2,224.1 L398.0,224.1 L398.8,224.2 L399.5,224.2 L400.2,224.3 L401.0,224.4 L401.8,224.4 L402.5,224.5 L403.2,224.6 L404.0,224.6 L404.8,224.7 L405.5,224.7"/>
</g>
<path d="M203.8,12 V234" stroke="#444" stroke-width="1.7" fill="none"/>
<g stroke="#3a3a3a" fill="none">
<path stroke-width="1.9" d="M69.4,11.0 V245.5"/>
<path stroke-width="1.8" d="M57.7,233.9 H407.5"/>
<path stroke-width="1.6" stroke="#3c3c3c" d="M61.8,215.4 H69.6 M61.8,196.9 H69.6 M61.8,178.4 H69.6 M57.7,159.9 H69.6 M61.8,141.4 H69.6 M61.8,122.9 H69.6 M61.8,104.4 H69.6 M57.7,85.9 H69.6 M61.8,67.4 H69.6 M61.8,48.9 H69.6 M61.8,30.4 H69.6 M57.7,11.9 H69.6"/>
<path stroke-width="1.4" stroke="#404040" d="M81.3,233.9 V241.6 M92.5,233.9 V241.6 M103.8,233.9 V241.6 M115.0,233.9 V245.5 M126.2,233.9 V241.6 M137.4,233.9 V241.6 M148.6,233.9 V241.6 M159.8,233.9 V245.5 M171.1,233.9 V241.6 M182.3,233.9 V241.6 M193.5,233.9 V241.6 M204.7,233.9 V245.5 M215.9,233.9 V241.6 M227.2,233.9 V241.6 M238.4,233.9 V241.6 M249.6,233.9 V245.5 M260.8,233.9 V241.6 M272.0,233.9 V241.6 M283.2,233.9 V241.6 M294.5,233.9 V245.5 M305.7,233.9 V241.6 M316.9,233.9 V241.6 M328.1,233.9 V241.6 M339.3,233.9 V245.5 M350.5,233.9 V241.6 M361.8,233.9 V241.6 M373.0,233.9 V241.6 M384.2,233.9 V245.5 M395.4,233.9 V241.6 M406.6,233.9 V241.6"/>
</g>
<g class="t">
<text x="56.6" y="237.4" text-anchor="end">0</text><text x="56.6" y="163.4" text-anchor="end">0.2</text><text x="56.6" y="89.4" text-anchor="end">0.4</text><text x="56.6" y="15.4" text-anchor="end">0.6</text>
<text x="69.4" y="256.0" text-anchor="middle">0</text><text x="114.3" y="256.0" text-anchor="middle">200</text><text x="159.1" y="256.0" text-anchor="middle">400</text><text x="204.0" y="256.0" text-anchor="middle">600</text><text x="248.9" y="256.0" text-anchor="middle">800</text><text x="283.4" y="256.0" textLength="22.6" lengthAdjust="spacingAndGlyphs">1000</text><text x="328.3" y="256.0" textLength="22.6" lengthAdjust="spacingAndGlyphs">1200</text><text x="373.2" y="256.0" textLength="22.6" lengthAdjust="spacingAndGlyphs">1400</text>
<text x="237.8" y="273" text-anchor="middle">Time (s)</text>
<text transform="translate(12.1,124.2) rotate(-90)" text-anchor="middle">nm</text>
</g>
</svg>
<svg width="550" height="278" viewBox="0 0 550 278">
<g class="k">
<text x="225.71" y="35.1" font-size="13.7" textLength="7.13" lengthAdjust="spacingAndGlyphs" font-style="italic">K</text>
<text x="233.43" y="35.1" font-size="7.6" textLength="6.51" lengthAdjust="spacingAndGlyphs" stroke="#25a6e4" stroke-width="0.1">D</text>
<text x="243.87" y="35.1" font-size="13.7" textLength="21.66" lengthAdjust="spacingAndGlyphs">(M)</text>
<text x="268.47" y="36.3" font-size="13.7" textLength="8.25" lengthAdjust="spacingAndGlyphs">=</text>
<text x="279.07" y="35.1" font-size="13.7" textLength="29.83" lengthAdjust="spacingAndGlyphs">1.794</text>
<text x="313.35" y="36.3" font-size="13.7" textLength="7.38" lengthAdjust="spacingAndGlyphs">×</text>
<text x="322.84" y="35.1" font-size="13.7" textLength="13.64" lengthAdjust="spacingAndGlyphs">10</text>
<text x="336.84" y="31.4" font-size="7.2" textLength="2.51" lengthAdjust="spacingAndGlyphs">-</text>
<text x="339.66" y="31.4" font-size="7.2" textLength="4.88" lengthAdjust="spacingAndGlyphs">8</text>
<text x="344.48" y="35.1" font-size="13.7" textLength="3.71" lengthAdjust="spacingAndGlyphs">,</text>
<text x="352.00" y="35.1" font-size="13.7" textLength="15.41" lengthAdjust="spacingAndGlyphs">Ka</text>
<text x="371.75" y="35.1" font-size="13.7" textLength="39.05" lengthAdjust="spacingAndGlyphs">(1/Ms)</text>
<text x="413.79" y="36.3" font-size="13.7" textLength="8.00" lengthAdjust="spacingAndGlyphs">=</text>
<text x="423.81" y="35.1" font-size="13.7" textLength="29.41" lengthAdjust="spacingAndGlyphs">2.125</text>
<text x="457.07" y="36.3" font-size="13.7" textLength="7.24" lengthAdjust="spacingAndGlyphs">×</text>
<text x="466.86" y="35.1" font-size="13.7" textLength="13.41" lengthAdjust="spacingAndGlyphs">10</text>
<text x="480.12" y="31.4" font-size="7.2" textLength="2.64" lengthAdjust="spacingAndGlyphs">-</text>
<text x="482.68" y="31.4" font-size="7.2" textLength="5.48" lengthAdjust="spacingAndGlyphs">4</text>
<text x="489.06" y="35.1" font-size="13.7" textLength="3.87" lengthAdjust="spacingAndGlyphs">,</text>
<text x="225.30" y="59.9" font-size="13.7" textLength="24.77" lengthAdjust="spacingAndGlyphs">kdis</text>
<text x="253.07" y="59.9" font-size="13.7" textLength="25.53" lengthAdjust="spacingAndGlyphs">(1/s)</text>
<text x="280.90" y="61.1" font-size="13.7" textLength="7.88" lengthAdjust="spacingAndGlyphs">=</text>
<text x="290.89" y="59.9" font-size="13.7" textLength="30.45" lengthAdjust="spacingAndGlyphs">3.812</text>
<text x="324.33" y="61.1" font-size="13.7" textLength="7.52" lengthAdjust="spacingAndGlyphs">×</text>
<text x="334.07" y="59.9" font-size="13.7" textLength="13.30" lengthAdjust="spacingAndGlyphs">10</text>
<text x="347.21" y="56.2" font-size="7.2" textLength="2.76" lengthAdjust="spacingAndGlyphs">-</text>
<text x="349.87" y="56.2" font-size="7.2" textLength="5.70" lengthAdjust="spacingAndGlyphs">4</text>
<text x="356.14" y="59.9" font-size="13.7" textLength="4.03" lengthAdjust="spacingAndGlyphs">,</text>
<text x="363.30" y="59.9" font-size="13.7" textLength="21.73" lengthAdjust="spacingAndGlyphs">Full</text>
<text x="389.65" y="59.9" font-size="13.7" textLength="9.17" lengthAdjust="spacingAndGlyphs">X</text>
<text x="398.52" y="56.2" font-size="7.2" textLength="4.25" lengthAdjust="spacingAndGlyphs">2</text>
<text x="404.91" y="61.1" font-size="13.7" textLength="7.76" lengthAdjust="spacingAndGlyphs">=</text>
<text x="415.04" y="59.9" font-size="13.7" textLength="36.05" lengthAdjust="spacingAndGlyphs">0.9146</text>
<text x="451.46" y="59.9" font-size="13.7" textLength="3.87" lengthAdjust="spacingAndGlyphs">,</text>
<text x="459.10" y="59.9" font-size="13.7" textLength="21.63" lengthAdjust="spacingAndGlyphs">Full</text>
<text x="484.89" y="59.9" font-size="13.7" textLength="9.14" lengthAdjust="spacingAndGlyphs">R</text>
<text x="494.04" y="56.2" font-size="7.2" textLength="4.00" lengthAdjust="spacingAndGlyphs">2</text>
<text x="500.63" y="61.1" font-size="13.7" textLength="7.52" lengthAdjust="spacingAndGlyphs">=</text>
<text x="510.23" y="59.9" font-size="13.7" textLength="36.70" lengthAdjust="spacingAndGlyphs">0.9875</text>
</g>
</svg>
</body></html>
